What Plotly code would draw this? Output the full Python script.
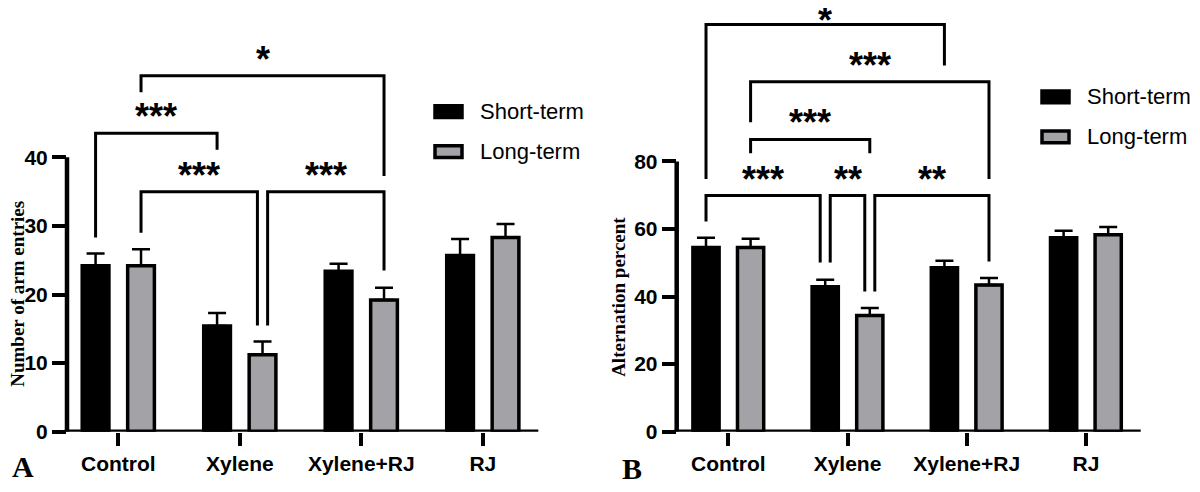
import plotly.graph_objects as go

# --- Data ---
groups = ["Control", "Xylene", "Xylene+RJ", "RJ"]
series_names = ["Short-term", "Long-term"]

# Panel A: number of arm entries (mean, SEM)
arm_short = [24.2, 15.4, 23.4, 25.7]
arm_short_sem = [1.8, 1.9, 1.1, 2.4]
arm_long = [24.2, 11.2, 19.2, 28.3]
arm_long_sem = [2.4, 1.95, 1.8, 2.0]

# Panel B: alternation percent (mean, SEM)
alt_short = [54.5, 42.9, 48.5, 57.4]
alt_short_sem = [2.9, 2.1, 2.1, 2.1]
alt_long = [54.5, 34.4, 43.4, 58.3]
alt_long_sem = [2.6, 2.2, 2.1, 2.3]

# significance brackets:
# (group a, series a, group b, series b, bracket height, left leg end, right leg end, label)
arm_brackets = [
    (0, 0, 1, 0, 43.5, 28.3, 41.1, "***"),
    (0, 1, 1, 1, 35.0, 29.0, 15.5, "***"),
    (1, 1, 2, 1, 35.0, 15.5, 23.5, "***"),
    (0, 1, 2, 1, 51.9, 49.5, 37.3, "*"),
]
alt_brackets = [
    (0, 0, 1, 0, 69.9, 62.2, 50.1, "***"),
    (1, 0, 1, 1, 69.9, 50.1, 41.5, "**"),
    (1, 1, 2, 1, 69.9, 41.5, 50.4, "**"),
    (0, 1, 1, 1, 86.5, 82.4, 82.4, "***"),
    (0, 1, 2, 1, 103.6, 91.6, 74.8, "***"),
    (0, 0, 2, 0, 120.5, 74.8, 108.4, "*"),
]

# --- Style ---
# the page body has an 8px margin, so the figure is kept 16px smaller than the window
OFF = 8
W, H = 1200 - 2 * OFF, 492 - 2 * OFF
bar_colors = ["black", "#a3a3a7"]
bar_offset = [-0.187, 0.187]
bar_width = 0.22
leg_nudge = 0.042
axis_px = 441.7          # pixel row of the x axis (page coords)
tick_font = dict(family="Liberation Sans, Arial", size=21, color="black", weight="bold")
title_font = dict(family="Liberation Serif, Times New Roman", size=19, color="black", weight="bold")
star_font = dict(family="Liberation Sans, Arial", size=36, color="black", weight="bold")
legend_font = dict(family="Liberation Sans, Arial", size=22, color="black")


def px_x(p):
    return (p - OFF) / W


def px_y(p):
    return 1 - (p - OFF) / H


def bar_x(g, s):
    return g + bar_offset[s]


fig = go.Figure()
shapes = []
annotations = []

panels = [
    dict(xa="x", ya="y", means=[arm_short, arm_long], sems=[arm_short_sem, arm_long_sem],
         brackets=arm_brackets, px_per_unit=7.02, yticks=[0, 10, 20, 30, 40],
         title="Number of arm entries", title_px=(18, 300.5), letter="A", letter_px=(23, 477),
         left_px=67, right_px=538.3, tick0_px=118.3, step_px=121.5, legend_px=(433, 114, 155)),
    dict(xa="x2", ya="y2", means=[alt_short, alt_long], sems=[alt_short_sem, alt_long_sem],
         brackets=alt_brackets, px_per_unit=3.458, yticks=[0, 20, 40, 60, 80],
         title="Alternation percent", title_px=(618.3, 303.4), letter="B", letter_px=(632, 479),
         left_px=676.7, right_px=1140.7, tick0_px=728.3, step_px=119.2, legend_px=(1040, 99, 140)),
]

for k, p in enumerate(panels):
    ymax = (axis_px - OFF) / p["px_per_unit"]

    # --- Bars with upper SEM error bars ---
    for s in range(2):
        fig.add_trace(go.Bar(
            x=[bar_x(g, s) for g in range(len(groups))],
            y=p["means"][s],
            width=bar_width,
            name=series_names[s],
            marker=dict(color=bar_colors[s], line=dict(color="black", width=3.5)),
            error_y=dict(type="data", symmetric=False, array=p["sems"][s],
                         arrayminus=[0] * len(groups), color="black",
                         thickness=2.5, width=9),
            xaxis=p["xa"], yaxis=p["ya"],
            showlegend=False,
        ))

    # --- Significance brackets ---
    br = p["brackets"]
    for (ga, sa, gb, sb, top, yl, yr, label) in br:
        xl = bar_x(ga, sa)
        xr = bar_x(gb, sb)
        # shift legs apart where two brackets meet at the same bar
        if any(b[2] == ga and b[3] == sa and b[4] == top for b in br):
            xl += leg_nudge
        if any(b[0] == gb and b[1] == sb and b[4] == top for b in br):
            xr -= leg_nudge
        fig.add_trace(go.Scatter(
            x=[xl, xl, xr, xr], y=[yl, top, top, yr],
            mode="lines", line=dict(color="black", width=3),
            xaxis=p["xa"], yaxis=p["ya"], showlegend=False, hoverinfo="skip",
        ))
        # keep the star label inside the figure when the bracket is near the top
        line_px = (ymax - top) * p["px_per_unit"]
        shift = -6 - max(0, 29 - line_px)
        annotations.append(dict(
            x=(xl + xr) / 2, y=top, xref=p["xa"], yref=p["ya"],
            text=label, showarrow=False, font=star_font,
            xanchor="center", yanchor="bottom", yshift=shift,
        ))

    # --- Axis lines (y line stops at the last tick) ---
    xdomref = p["xa"] + " domain"
    shapes.append(dict(type="line", xref=xdomref, yref=p["ya"], x0=0, x1=0,
                       y0=0, y1=p["yticks"][-1], line=dict(color="black", width=4.5)))
    shapes.append(dict(type="line", xref=xdomref, yref=p["ya"], x0=-0.005, x1=1,
                       y0=0, y1=0, line=dict(color="black", width=4.5)))

    # --- Y title and panel letter ---
    annotations.append(dict(
        x=px_x(p["title_px"][0]), y=px_y(p["title_px"][1]),
        xref="paper", yref="paper", text=p["title"], textangle=-90,
        showarrow=False, font=title_font, xanchor="center", yanchor="middle",
    ))
    annotations.append(dict(
        x=px_x(p["letter_px"][0]), y=px_y(p["letter_px"][1]), xref="paper", yref="paper",
        text=p["letter"], showarrow=False, xanchor="center", yanchor="middle",
        font=dict(family="Liberation Serif, Times New Roman", size=30, color="black", weight="bold"),
    ))

    # --- Legend ---
    lx, ly1, ly2 = p["legend_px"]
    for s, ly in enumerate([ly1, ly2]):
        shapes.append(dict(type="rect", xref="paper", yref="paper",
                           x0=px_x(lx + 2), x1=px_x(lx + 29), y0=px_y(ly - 6), y1=px_y(ly + 6),
                           fillcolor=bar_colors[s], line=dict(color="black", width=3.5)))
        annotations.append(dict(
            x=px_x(lx + 45), y=px_y(ly), xref="paper", yref="paper",
            text=series_names[s], showarrow=False, font=legend_font,
            xanchor="left", yanchor="middle",
        ))

    x0 = -(p["tick0_px"] - p["left_px"]) / p["step_px"]
    x1 = (p["right_px"] - p["tick0_px"]) / p["step_px"]
    axis_x = dict(domain=[px_x(p["left_px"]), px_x(p["right_px"])], range=[x0, x1],
                  showgrid=False, zeroline=False, showline=False, tickmode="array",
                  tickvals=list(range(len(groups))), ticktext=groups, ticks="outside",
                  ticklen=13, tickwidth=4, tickcolor="black", tickfont=tick_font,
                  anchor=p["ya"])
    axis_y = dict(domain=[px_y(axis_px), 1], range=[0, ymax], showgrid=False,
                  zeroline=False, showline=False, tickmode="array", tickvals=p["yticks"],
                  ticks="outside", ticklen=14, tickwidth=4, tickcolor="black",
                  tickfont=tick_font, anchor=p["xa"])
    suffix = "" if k == 0 else "2"
    fig.update_layout(**{"xaxis" + suffix: axis_x, "yaxis" + suffix: axis_y})

fig.update_layout(
    width=W, height=H,
    margin=dict(l=0, r=0, t=0, b=0),
    plot_bgcolor="white", paper_bgcolor="white",
    barmode="overlay",
    shapes=shapes,
    annotations=annotations,
)

fig.write_html("out.html")
